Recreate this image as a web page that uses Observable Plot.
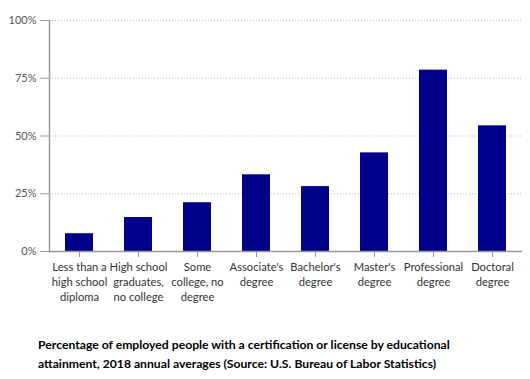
<!DOCTYPE html>
<html>
<head>
<meta charset="utf-8">
<script src="https://cdn.jsdelivr.net/npm/d3@7"></script>
<script src="https://cdn.jsdelivr.net/npm/@observablehq/plot@0.6"></script>
<style>
  html, body { margin: 0; padding: 0; background: #fff; }
  #chart svg { display: block; }
  #caption { font-family: Lato, "Open Sans", sans-serif; font-weight: bold; font-size: 12.2px; line-height: 19px; color: #000; margin-left: 38px; width: 480px; margin-top: 15px; }
</style>
</head>
<body>
<div id="chart"></div>
<div id="caption">Percentage of employed people with a certification or license by educational<br>attainment, 2018 annual averages (Source: U.S. Bureau of Labor Statistics)</div>
<script>
const categories = [
  "Less than a\nhigh school\ndiploma",
  "High school\ngraduates,\nno college",
  "Some\ncollege, no\ndegree",
  "Associate's\ndegree",
  "Bachelor's\ndegree",
  "Master's\ndegree",
  "Professional\ndegree",
  "Doctoral\ndegree"
];
const values = [7.7, 14.7, 21.1, 33.2, 28.1, 42.7, 78.5, 54.4];
const yTicks = [0, 25, 50, 75, 100];

const data = categories.map((c, i) => ({category: c, value: values[i]}));

const chart = Plot.plot({
  width: 530,
  height: 320,
  marginLeft: 49,
  marginRight: 8,
  marginTop: 20,
  marginBottom: 69,
  style: {fontFamily: "Lato, 'Open Sans', sans-serif", fontSize: "11px", color: "#444"},
  x: {domain: categories, paddingInner: 0.53, paddingOuter: 0.265, label: null},
  y: {domain: [0, 100], label: null},
  marks: [
    Plot.gridY(yTicks, {stroke: "#bbb", strokeOpacity: 1, strokeDasharray: "1,2"}),
    Plot.barY(data, {x: "category", y: "value", fill: "#00008b"}),
    Plot.axisY(yTicks, {tickFormat: d => d + "%", tickSize: 9, tickPadding: 4, stroke: "#999", fill: "#555", fontSize: 11}),
    Plot.axisX({tickSize: 6, tickPadding: 3, stroke: "#999", fill: "#333", fontSize: 11.2, lineHeight: 1.33}),
    Plot.frame({anchor: "left", stroke: "#999", strokeWidth: 1.5}),
    Plot.ruleY([0], {stroke: "#999", strokeWidth: 1.5})
  ]
});
document.getElementById("chart").appendChild(chart);
</script>
</body>
</html>
